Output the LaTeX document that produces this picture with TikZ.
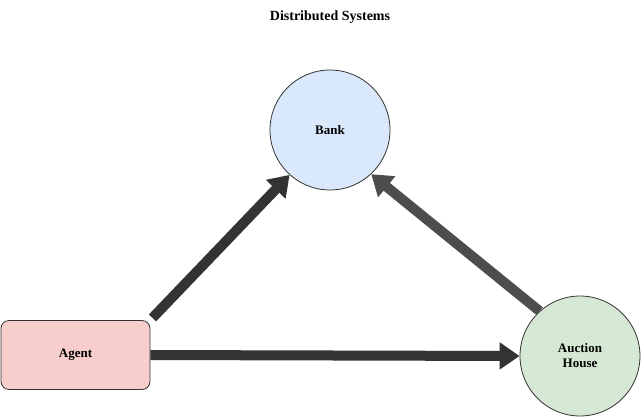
\documentclass[tikz,border=0pt]{standalone}
\usepackage{fontspec}
\setmainfont{Liberation Serif}
\usetikzlibrary{arrows.meta}
\definecolor{pinkf}{HTML}{F8CECC}
\definecolor{bluef}{HTML}{DAE8FC}
\definecolor{greenf}{HTML}{D5E8D4}
\definecolor{arr}{HTML}{333333}
\definecolor{arrg}{HTML}{4D4D4D}
\begin{document}
\begin{tikzpicture}[x=1pt,y=-1pt,
  lbl/.style={font=\fontsize{13}{15}\selectfont\bfseries,align=center},
  circ/.style={circle,draw=black!80,line width=0.8pt,minimum size=120pt,inner sep=0pt,lbl},
  blk/.style={line width=10pt,-{Triangle[length=20pt,width=26pt]},draw=arr}]
\useasboundingbox (0,0) rectangle (641,416);
\node[font=\fontsize{14}{16}\selectfont\bfseries] (title) at (330,17) {Distributed Systems};
\node[circ,fill=bluef] (bank) at (330,130) {Bank};
\node[circ,fill=greenf] (ah) at (580,356) {Auction\\House};
\node[lbl,draw=black!80,line width=0.8pt,fill=pinkf,rounded corners=8pt,minimum width=149pt,minimum height=69pt] (agent) at (75.5,355) {Agent};
\draw[blk,shorten <=3pt] (agent.north east) -- (bank.228);
\draw[blk] (agent.east) -- (ah.west);
\draw[blk,draw=arrg] (ah.132) -- (bank.313);
\end{tikzpicture}
\end{document}
